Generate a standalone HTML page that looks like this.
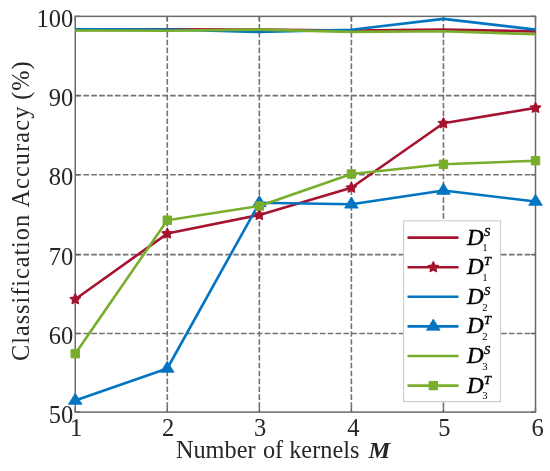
<!DOCTYPE html>
<html><head><meta charset="utf-8"><style>
html,body{margin:0;padding:0;background:#fff;}
body{width:550px;height:471px;overflow:hidden;}
svg{display:block;}
</style></head><body>
<svg width="550" height="471" viewBox="0 0 550 471">
<rect width="550" height="471" fill="#fff"/>
<g stroke="#737373" stroke-width="1.6" stroke-dasharray="5.6 2.28" fill="none"><line x1="167.30" y1="16.35" x2="167.30" y2="412.10" stroke-dashoffset="0.3"/><line x1="259.35" y1="16.35" x2="259.35" y2="412.10" stroke-dashoffset="0.3"/><line x1="351.40" y1="16.35" x2="351.40" y2="412.10" stroke-dashoffset="0.3"/><line x1="443.45" y1="16.35" x2="443.45" y2="412.10" stroke-dashoffset="0.3"/><line x1="75.25" y1="95.60" x2="535.50" y2="95.60" stroke-dashoffset="-0.3"/><line x1="75.25" y1="174.70" x2="535.50" y2="174.70" stroke-dashoffset="-0.3"/><line x1="75.25" y1="254.60" x2="535.50" y2="254.60" stroke-dashoffset="-0.3"/><line x1="75.25" y1="333.50" x2="535.50" y2="333.50" stroke-dashoffset="-0.3"/></g>
<g stroke="#666" stroke-width="1.4" fill="none"><line x1="75.25" y1="412.10" x2="75.25" y2="407.50"/><line x1="75.25" y1="16.35" x2="75.25" y2="20.95"/><line x1="167.30" y1="412.10" x2="167.30" y2="407.50"/><line x1="167.30" y1="16.35" x2="167.30" y2="20.95"/><line x1="259.35" y1="412.10" x2="259.35" y2="407.50"/><line x1="259.35" y1="16.35" x2="259.35" y2="20.95"/><line x1="351.40" y1="412.10" x2="351.40" y2="407.50"/><line x1="351.40" y1="16.35" x2="351.40" y2="20.95"/><line x1="443.45" y1="412.10" x2="443.45" y2="407.50"/><line x1="443.45" y1="16.35" x2="443.45" y2="20.95"/><line x1="535.50" y1="412.10" x2="535.50" y2="407.50"/><line x1="535.50" y1="16.35" x2="535.50" y2="20.95"/><line x1="75.25" y1="16.35" x2="79.85" y2="16.35"/><line x1="535.50" y1="16.35" x2="530.90" y2="16.35"/><line x1="75.25" y1="95.60" x2="79.85" y2="95.60"/><line x1="535.50" y1="95.60" x2="530.90" y2="95.60"/><line x1="75.25" y1="174.70" x2="79.85" y2="174.70"/><line x1="535.50" y1="174.70" x2="530.90" y2="174.70"/><line x1="75.25" y1="254.60" x2="79.85" y2="254.60"/><line x1="535.50" y1="254.60" x2="530.90" y2="254.60"/><line x1="75.25" y1="333.50" x2="79.85" y2="333.50"/><line x1="535.50" y1="333.50" x2="530.90" y2="333.50"/><line x1="75.25" y1="412.10" x2="79.85" y2="412.10"/><line x1="535.50" y1="412.10" x2="530.90" y2="412.10"/></g>
<rect x="75.25" y="16.35" width="460.25" height="395.75" fill="none" stroke="#6a6a6a" stroke-width="1.5"/>
<polyline points="75.25,30.00 167.30,29.40 259.35,29.60 351.40,30.60 443.45,29.60 535.50,31.40" fill="none" stroke="#A6132F" stroke-width="2.6" stroke-linejoin="round"/>
<polyline points="75.25,299.20 167.30,233.60 259.35,215.00 351.40,187.80 443.45,123.30 535.50,107.90" fill="none" stroke="#A6132F" stroke-width="2.6" stroke-linejoin="round"/>
<polygon points="75.25,293.80 76.84,297.02 80.39,297.53 77.82,300.03 78.42,303.57 75.25,301.90 72.08,303.57 72.68,300.03 70.11,297.53 73.66,297.02" fill="#A6132F" stroke="#A6132F" stroke-width="1.3" stroke-linejoin="round"/>
<polygon points="167.30,228.20 168.89,231.42 172.44,231.93 169.87,234.43 170.47,237.97 167.30,236.30 164.13,237.97 164.73,234.43 162.16,231.93 165.71,231.42" fill="#A6132F" stroke="#A6132F" stroke-width="1.3" stroke-linejoin="round"/>
<polygon points="259.35,209.60 260.94,212.82 264.49,213.33 261.92,215.83 262.52,219.37 259.35,217.70 256.18,219.37 256.78,215.83 254.21,213.33 257.76,212.82" fill="#A6132F" stroke="#A6132F" stroke-width="1.3" stroke-linejoin="round"/>
<polygon points="351.40,182.40 352.99,185.62 356.54,186.13 353.97,188.63 354.57,192.17 351.40,190.50 348.23,192.17 348.83,188.63 346.26,186.13 349.81,185.62" fill="#A6132F" stroke="#A6132F" stroke-width="1.3" stroke-linejoin="round"/>
<polygon points="443.45,117.90 445.04,121.12 448.59,121.63 446.02,124.13 446.62,127.67 443.45,126.00 440.28,127.67 440.88,124.13 438.31,121.63 441.86,121.12" fill="#A6132F" stroke="#A6132F" stroke-width="1.3" stroke-linejoin="round"/>
<polygon points="535.50,102.50 537.09,105.72 540.64,106.23 538.07,108.73 538.67,112.27 535.50,110.60 532.33,112.27 532.93,108.73 530.36,106.23 533.91,105.72" fill="#A6132F" stroke="#A6132F" stroke-width="1.3" stroke-linejoin="round"/>
<polyline points="75.25,29.30 167.30,29.50 259.35,32.00 351.40,29.80 443.45,18.90 535.50,29.60" fill="none" stroke="#0274C2" stroke-width="2.6" stroke-linejoin="round"/>
<polyline points="75.25,400.50 167.30,368.50 259.35,202.80 351.40,204.30 443.45,190.50 535.50,201.50" fill="none" stroke="#0274C2" stroke-width="2.6" stroke-linejoin="round"/>
<polygon points="75.25,393.20 68.45,404.30 82.05,404.30" fill="#0274C2" stroke="#0274C2" stroke-width="0.8" stroke-linejoin="round"/>
<polygon points="167.30,361.20 160.50,372.30 174.10,372.30" fill="#0274C2" stroke="#0274C2" stroke-width="0.8" stroke-linejoin="round"/>
<polygon points="259.35,195.50 252.55,206.60 266.15,206.60" fill="#0274C2" stroke="#0274C2" stroke-width="0.8" stroke-linejoin="round"/>
<polygon points="351.40,197.00 344.60,208.10 358.20,208.10" fill="#0274C2" stroke="#0274C2" stroke-width="0.8" stroke-linejoin="round"/>
<polygon points="443.45,183.20 436.65,194.30 450.25,194.30" fill="#0274C2" stroke="#0274C2" stroke-width="0.8" stroke-linejoin="round"/>
<polygon points="535.50,194.20 528.70,205.30 542.30,205.30" fill="#0274C2" stroke="#0274C2" stroke-width="0.8" stroke-linejoin="round"/>
<polyline points="75.25,30.50 167.30,30.80 259.35,29.60 351.40,31.90 443.45,31.30 535.50,34.20" fill="none" stroke="#78AE2C" stroke-width="2.6" stroke-linejoin="round"/>
<polyline points="75.25,353.70 167.30,220.20 259.35,206.00 351.40,174.00 443.45,164.30 535.50,160.70" fill="none" stroke="#78AE2C" stroke-width="2.6" stroke-linejoin="round"/>
<rect x="71.05" y="349.50" width="8.4" height="8.4" fill="#78AE2C" stroke="#78AE2C" stroke-width="1" stroke-linejoin="round"/>
<rect x="163.10" y="216.00" width="8.4" height="8.4" fill="#78AE2C" stroke="#78AE2C" stroke-width="1" stroke-linejoin="round"/>
<rect x="255.15" y="201.80" width="8.4" height="8.4" fill="#78AE2C" stroke="#78AE2C" stroke-width="1" stroke-linejoin="round"/>
<rect x="347.20" y="169.80" width="8.4" height="8.4" fill="#78AE2C" stroke="#78AE2C" stroke-width="1" stroke-linejoin="round"/>
<rect x="439.25" y="160.10" width="8.4" height="8.4" fill="#78AE2C" stroke="#78AE2C" stroke-width="1" stroke-linejoin="round"/>
<rect x="531.30" y="156.50" width="8.4" height="8.4" fill="#78AE2C" stroke="#78AE2C" stroke-width="1" stroke-linejoin="round"/>
<g font-family="Liberation Serif, serif" font-size="24.5" fill="#262626"><text x="73.3" y="26.85" text-anchor="end">100</text><text x="73.3" y="106.10" text-anchor="end">90</text><text x="73.3" y="185.20" text-anchor="end">80</text><text x="73.3" y="265.10" text-anchor="end">70</text><text x="73.3" y="344.00" text-anchor="end">60</text><text x="73.3" y="422.60" text-anchor="end">50</text><text x="76.05" y="436.3" text-anchor="middle">1</text><text x="168.10" y="436.3" text-anchor="middle">2</text><text x="260.15" y="436.3" text-anchor="middle">3</text><text x="353.40" y="436.3" text-anchor="middle">4</text><text x="444.35" y="436.3" text-anchor="middle">5</text><text x="537.50" y="436.3" text-anchor="middle">6</text></g>
<text x="175.9" y="458.2" font-family="Liberation Serif, serif" font-size="24.3" fill="#262626">Number <tspan x="262.9">of kernels</tspan></text>
<text transform="translate(368.6,458.2) scale(1.1,1)" font-family="Liberation Serif, serif" font-size="22.3" font-weight="bold" font-style="italic" fill="#262626">M</text>
<text transform="translate(29.0,360.9) rotate(-90)" letter-spacing="0.95" font-family="Liberation Serif, serif" font-size="24.3" fill="#262626">Classification</text>
<text transform="translate(29.0,207.6) rotate(-90)" letter-spacing="1.12" font-family="Liberation Serif, serif" font-size="24.3" fill="#262626">Accuracy</text>
<text transform="translate(29.0,99.8) rotate(-90)" letter-spacing="1.0" font-family="Liberation Serif, serif" font-size="24.3" fill="#262626">(%)</text>
<rect x="403.6" y="220.8" width="96.90" height="180.80" fill="#fff" stroke="#cccccc" stroke-width="1.1"/>
<line x1="407.5" y1="237.60" x2="458.5" y2="237.60" stroke="#A6132F" stroke-width="2.6"/>
<text x="467.0" y="244.60" font-family="Liberation Serif, serif" font-size="23" font-style="italic" fill="#000" stroke="#000" stroke-width="0.45">D</text>
<text x="484.0" y="235.50" font-family="Liberation Serif, serif" font-size="12.5" font-style="italic" fill="#000" stroke="#000" stroke-width="0.4">S</text>
<text x="482.3" y="251.30" font-family="Liberation Serif, serif" font-size="10.8" fill="#000">1</text>
<line x1="407.5" y1="267.20" x2="458.5" y2="267.20" stroke="#A6132F" stroke-width="2.6"/>
<polygon points="433.30,261.80 434.89,265.02 438.44,265.53 435.87,268.03 436.47,271.57 433.30,269.90 430.13,271.57 430.73,268.03 428.16,265.53 431.71,265.02" fill="#A6132F" stroke="#A6132F" stroke-width="1.3" stroke-linejoin="round"/>
<text x="467.0" y="274.20" font-family="Liberation Serif, serif" font-size="23" font-style="italic" fill="#000" stroke="#000" stroke-width="0.45">D</text>
<text x="484.0" y="265.10" font-family="Liberation Serif, serif" font-size="12.5" font-style="italic" fill="#000" stroke="#000" stroke-width="0.4">T</text>
<text x="482.3" y="280.90" font-family="Liberation Serif, serif" font-size="10.8" fill="#000">1</text>
<line x1="407.5" y1="296.80" x2="458.5" y2="296.80" stroke="#0274C2" stroke-width="2.6"/>
<text x="467.0" y="303.80" font-family="Liberation Serif, serif" font-size="23" font-style="italic" fill="#000" stroke="#000" stroke-width="0.45">D</text>
<text x="484.0" y="294.70" font-family="Liberation Serif, serif" font-size="12.5" font-style="italic" fill="#000" stroke="#000" stroke-width="0.4">S</text>
<text x="482.3" y="310.50" font-family="Liberation Serif, serif" font-size="10.8" fill="#000">2</text>
<line x1="407.5" y1="326.40" x2="458.5" y2="326.40" stroke="#0274C2" stroke-width="2.6"/>
<polygon points="433.30,319.10 426.50,330.20 440.10,330.20" fill="#0274C2" stroke="#0274C2" stroke-width="0.8" stroke-linejoin="round"/>
<text x="467.0" y="333.40" font-family="Liberation Serif, serif" font-size="23" font-style="italic" fill="#000" stroke="#000" stroke-width="0.45">D</text>
<text x="484.0" y="324.30" font-family="Liberation Serif, serif" font-size="12.5" font-style="italic" fill="#000" stroke="#000" stroke-width="0.4">T</text>
<text x="482.3" y="340.10" font-family="Liberation Serif, serif" font-size="10.8" fill="#000">2</text>
<line x1="407.5" y1="356.00" x2="458.5" y2="356.00" stroke="#78AE2C" stroke-width="2.6"/>
<text x="467.0" y="363.00" font-family="Liberation Serif, serif" font-size="23" font-style="italic" fill="#000" stroke="#000" stroke-width="0.45">D</text>
<text x="484.0" y="353.90" font-family="Liberation Serif, serif" font-size="12.5" font-style="italic" fill="#000" stroke="#000" stroke-width="0.4">S</text>
<text x="482.3" y="369.70" font-family="Liberation Serif, serif" font-size="10.8" fill="#000">3</text>
<line x1="407.5" y1="385.60" x2="458.5" y2="385.60" stroke="#78AE2C" stroke-width="2.6"/>
<rect x="429.10" y="381.40" width="8.4" height="8.4" fill="#78AE2C" stroke="#78AE2C" stroke-width="1" stroke-linejoin="round"/>
<text x="467.0" y="392.60" font-family="Liberation Serif, serif" font-size="23" font-style="italic" fill="#000" stroke="#000" stroke-width="0.45">D</text>
<text x="484.0" y="383.50" font-family="Liberation Serif, serif" font-size="12.5" font-style="italic" fill="#000" stroke="#000" stroke-width="0.4">T</text>
<text x="482.3" y="399.30" font-family="Liberation Serif, serif" font-size="10.8" fill="#000">3</text>
</svg>
</body></html>
